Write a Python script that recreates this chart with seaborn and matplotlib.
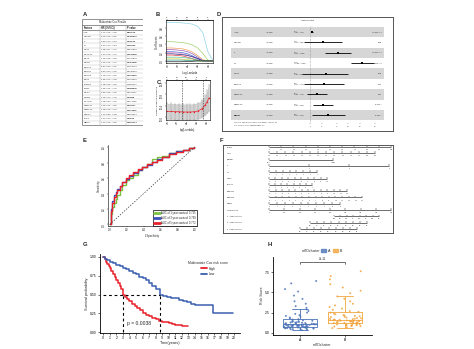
import numpy as np
import pandas as pd
import matplotlib
matplotlib.use("Agg")
import matplotlib.pyplot as plt
import seaborn as sns
from matplotlib.patches import Patch
from matplotlib.lines import Line2D

# ======================= DATA =======================
# A: multivariate Cox table
table_factors = ["Age", "Gender", "T", "N", "CDK1", "DCTPP1", "ECT2", "EIF4E", "EPHA2", "EPHX2", "ERCC2",
                 "ETV4", "LAMP3", "LSM1", "MAPT", "MGMT", "NCAPG", "NUDT11", "NUDT15", "NUP37", "PLK1", "RBM3"]
table_hr = ["1.17 (1.05 - 1.31)", "0.52 (0.29 - 0.92)", "1.81 (1.40 - 2.34)", "2.01 (1.40 - 2.87)",
            "1.28 (0.97 - 1.70)", "1.37 (1.06 - 1.78)", "1.22 (0.96 - 1.55)", "1.32 (1.01 - 1.73)",
            "0.87 (0.62 - 1.22)", "0.81 (0.64 - 1.02)", "1.25 (1.04 - 1.51)", "0.95 (0.72 - 1.25)",
            "1.18 (0.92 - 1.51)", "1.33 (1.01 - 1.76)", "0.85 (0.66 - 1.09)", "1.42 (1.15 - 1.75)",
            "1.09 (0.84 - 1.42)", "1.52 (1.21 - 1.91)", "1.38 (1.08 - 1.77)", "1.11 (0.89 - 1.38)",
            "1.37 (1.10 - 1.71)", "1.27 (1.02 - 1.58)"]
table_p = ["6.83E-05", "0.0425676", "1.04E-05", "0.000122", "0.0837654", "0.0162538", "0.1012873",
           "0.0421065", "0.4128733", "0.0745219", "0.0183522", "0.7123649", "0.1884207", "0.0398642",
           "0.2031147", "0.00098", "0.5171192", "0.000347", "0.0113845", "0.3568214", "0.00512", "0.0327754"]
table_bold = [True, True, True, True, False, True, False, True, False, False, True,
              False, False, True, False, True, False, True, True, False, True, True]

# B: LASSO coefficient paths
lasso_loglam = [-6.1, -5.5, -5.0, -4.5, -4.0, -3.5, -3.0, -2.5, -2.0, -1.5]
lasso_genes = ["CDK1", "ECT2", "EPHA2", "NUDT11", "MGMT", "PLK1", "RBM3", "LSM1", "NUDT15", "LAMP3", "ERCC2", "ETV4"]
lasso_coefs = [
    [0.92, 0.92, 0.92, 0.91, 0.90, 0.88, 0.83, 0.68, 0.22, 0.0],
    [0.46, 0.46, 0.45, 0.44, 0.42, 0.38, 0.31, 0.18, 0.02, 0.0],
    [0.31, 0.31, 0.30, 0.29, 0.26, 0.21, 0.13, 0.03, 0.0, 0.0],
    [0.27, 0.27, 0.26, 0.25, 0.22, 0.17, 0.09, 0.01, 0.0, 0.0],
    [0.22, 0.22, 0.21, 0.20, 0.17, 0.12, 0.05, 0.0, 0.0, 0.0],
    [0.20, 0.20, 0.19, 0.17, 0.14, 0.09, 0.03, 0.0, 0.0, 0.0],
    [0.17, 0.17, 0.16, 0.15, 0.13, 0.10, 0.06, 0.0, 0.0, 0.0],
    [0.14, 0.14, 0.13, 0.12, 0.09, 0.05, 0.01, 0.0, 0.0, 0.0],
    [0.09, 0.09, 0.09, 0.08, 0.07, 0.05, 0.02, 0.0, 0.0, 0.0],
    [0.05, 0.05, 0.05, 0.04, 0.03, 0.02, 0.0, 0.0, 0.0, 0.0],
    [0.02, 0.02, 0.02, 0.02, 0.01, 0.01, 0.0, 0.0, 0.0, 0.0],
    [-0.02, -0.02, -0.02, -0.02, -0.01, -0.01, 0.0, 0.0, 0.0, 0.0],
]
lasso_colors = ["#8fd3e8", "#9fd36a", "#f0a35e", "#9b59b6", "#3b6fd6", "#f08fc0",
                "#1f2d8a", "#e8404a", "#55c08a", "#e8d44d", "#33a0a0", "#222222"]
lasso_top = ["21", "19", "14", "8", "3"]

# C: cross-validation curve
cv_loglam = [-6.0, -5.6, -5.2, -4.8, -4.4, -4.0, -3.6, -3.2, -2.8, -2.4, -2.1, -1.9, -1.7]
cv_mean = [12.20, 12.20, 12.19, 12.19, 12.18, 12.18, 12.18, 12.19, 12.22, 12.30, 12.42, 12.54, 12.68]
cv_sd = [0.28, 0.28, 0.28, 0.28, 0.28, 0.28, 0.28, 0.28, 0.29, 0.31, 0.35, 0.40, 0.46]
cv_lambda_min = -4.46
cv_lambda_1se = -2.32
cv_top = ["21", "18", "14", "9", "4"]

# D: forest plot
forest_vars = ["Age", "Gender", "T", "N", "CDK1", "EPHA2", "NUDT11", "NUDT15", "RBM3"]
forest_n = ["(N=393)", "(N=393)", "(N=393)", "(N=393)", "(N=393)", "(N=393)", "(N=393)", "(N=393)", "(N=393)"]
forest_hr = [1.12, 2.18, 5.4, 22.8, 2.62, 2.32, 1.52, 2.18, 2.95]
forest_lo = [1.05, 0.70, 2.46, 11.8, 0.62, 0.70, 0.83, 1.20, 1.13]
forest_hi = [1.20, 6.84, 11.8, 46.8, 9.84, 7.70, 2.78, 3.98, 8.20]
forest_p = ["<0.001 ***", "0.18", "<0.001 ***", "<0.001 ***", "0.19", "0.17", "0.17", "0.011 *", "0.027 *"]
forest_ticks = [1, 2, 5, 10, 20, 50]

# E: ROC curves
roc_fpr = [0, 0.01, 0.02, 0.03, 0.05, 0.07, 0.09, 0.12, 0.15, 0.19, 0.23, 0.28, 0.33, 0.38,
           0.44, 0.50, 0.56, 0.62, 0.70, 0.78, 0.86, 0.93, 1.0]
roc_tpr_1y = [0, 0.07, 0.14, 0.22, 0.28, 0.33, 0.38, 0.45, 0.51, 0.57, 0.60, 0.64, 0.70, 0.75,
              0.79, 0.85, 0.88, 0.89, 0.92, 0.95, 0.97, 0.99, 1.0]
roc_tpr_3y = [0, 0.10, 0.20, 0.30, 0.38, 0.42, 0.46, 0.50, 0.55, 0.59, 0.63, 0.67, 0.71, 0.74,
              0.77, 0.81, 0.85, 0.88, 0.92, 0.95, 0.97, 0.99, 1.0]
roc_tpr_5y = [0, 0.09, 0.18, 0.28, 0.36, 0.41, 0.45, 0.50, 0.55, 0.60, 0.64, 0.68, 0.72, 0.75,
              0.78, 0.81, 0.84, 0.87, 0.91, 0.94, 0.97, 0.99, 1.0]
roc_labels = ["AUC of 1 year survival: 0.735", "AUC of 3 year survival: 0.738", "AUC of 5 year survival: 0.772"]
roc_colors = ["#7cc242", "#3a4fb8", "#e8202a"]

# F: nomogram
nomo_rows = ["Points", "Age", "Gender", "T", "N", "CDK1", "EPHA2", "NUDT11", "NUDT15", "RBM3",
             "Total Points", "1 -Year Survival", "3 -Year Survival", "5 -Year Survival"]
nomo_start = [0, 0, 0, 0, 0, 0, 0, 0, 0, 0, 0, 53.3, 33.6, 25.4]
nomo_end = [100, 86.9, 52.5, 98.4, 39.3, 47.5, 35.2, 63.9, 76.2, 58.2, 100, 90.2, 80.3, 72.1]
nomo_labels = [
    ["0", "10", "20", "30", "40", "50", "60", "70", "80", "90", "100"],
    ["20", "25", "30", "35", "40", "45", "50", "55", "60", "65", "70", "75", "80", "85"],
    ["male", "female"],
    ["1", "2", "3", "4"],
    ["0", "1", "2", "3", "4", "5", "6", "7"],
    ["1", "2", "3", "4", "5", "6", "7", "8", "9", "10"],
    ["0", "1", "2", "3", "4", "5", "6", "7"],
    ["0", "1", "2", "3", "4", "5", "6", "7", "8", "9", "10", "11", "12"],
    ["0", "1", "2", "3", "4", "5", "6", "7", "8", "9", "10", "11", "12", "13", "14"],
    ["0", "1", "2", "3", "4", "5", "6", "7", "8", "9"],
    ["0", "20", "40", "60", "80", "100", "120", "140", "160"],
    ["0.95", "0.9", "0.85", "0.8", "0.75", "0.7", "0.65", "0.6"],
    ["0.9", "0.8", "0.7", "0.6", "0.5", "0.4", "0.3", "0.2", "0.1"],
    ["0.9", "0.8", "0.7", "0.6", "0.5", "0.4", "0.3", "0.2", "0.1"],
]

# G: Kaplan-Meier
km_high_t = [0, 0.2, 0.4, 0.6, 0.8, 1.0, 1.25, 1.5, 1.75, 2.0, 2.25, 2.5, 2.75, 3.0, 3.3, 3.6, 4.0, 4.4,
             4.8, 5.2, 5.6, 6.0, 6.5, 7.0, 7.5, 8.0, 8.5, 9.0, 9.5, 10.0, 10.5, 11.0, 11.5, 12.0, 13.0]
km_high_s = [1.0, 0.97, 0.94, 0.91, 0.88, 0.85, 0.81, 0.77, 0.73, 0.69, 0.65, 0.61, 0.57, 0.50, 0.47, 0.44,
             0.41, 0.38, 0.35, 0.32, 0.29, 0.26, 0.23, 0.21, 0.19, 0.17, 0.15, 0.14, 0.13, 0.12, 0.11,
             0.10, 0.09, 0.08, 0.08]
km_low_t = [0, 0.3, 0.6, 1.0, 1.5, 2.0, 2.5, 3.0, 3.5, 4.0, 4.5, 5.0, 5.5, 6.0, 6.5, 7.0, 7.5, 8.0,
            8.6, 9.2, 9.8, 10.4, 11.0, 11.6, 12.2, 12.8, 13.4, 14.0, 16.8, 19.8]
km_low_s = [1.0, 0.98, 0.96, 0.94, 0.92, 0.90, 0.88, 0.86, 0.84, 0.82, 0.79, 0.77, 0.74, 0.72, 0.69,
            0.66, 0.62, 0.57, 0.50, 0.48, 0.47, 0.46, 0.45, 0.43, 0.41, 0.40, 0.38, 0.36, 0.26, 0.26]
km_median_high = 3.0
km_median_low = 8.6
km_pvalue = "p = 0.0038"

# H: risk score by cluster
risk_A = [0.35, 0.42, 0.48, 0.5, 0.55, 0.58, 0.6, 0.62, 0.65, 0.68, 0.7, 0.72, 0.74, 0.76, 0.78, 0.8,
          0.82, 0.84, 0.86, 0.88, 0.9, 0.92, 0.94, 0.96, 0.98, 1.0, 1.0, 1.02, 1.04, 1.06, 1.08, 1.1,
          1.12, 1.15, 1.18, 1.2, 1.22, 1.25, 1.28, 1.3, 1.32, 1.35, 1.38, 1.42, 1.46, 1.5, 1.55, 1.6,
          1.65, 1.7, 1.8, 1.9, 2.0, 2.1, 2.2, 2.35, 2.5, 2.7, 2.9, 3.1, 3.3, 3.6, 3.9, 4.2, 4.6, 5.1,
          5.4, 6.1, 6.4, 0.45, 0.52, 0.66, 0.79, 0.91, 1.03, 1.14, 0.57, 0.69, 0.83, 0.95]
risk_B = [0.6, 0.7, 0.8, 0.85, 0.9, 0.95, 1.0, 1.05, 1.1, 1.15, 1.2, 1.25, 1.3, 1.35, 1.4, 1.45, 1.5,
          1.5, 1.55, 1.6, 1.65, 1.7, 1.75, 1.8, 1.85, 1.9, 1.95, 2.0, 2.05, 2.1, 2.15, 2.2, 2.3, 2.4,
          2.5, 2.6, 2.7, 2.85, 3.0, 3.2, 3.4, 3.6, 3.9, 4.2, 4.5, 4.9, 5.2, 5.6, 6.0, 6.6, 7.0, 7.6,
          1.02, 1.12, 1.22, 1.32, 1.42, 1.52, 1.62, 1.72, 1.28, 1.38, 1.48, 1.58, 0.88, 0.98]
cluster_names = ["A", "B"]
cluster_colors = ["#4a72b8", "#f2a33a"]
cluster_pvalue = "3e-11"

# ======================= STYLE =======================
sns.set_theme(style="ticks")
plt.rcParams['font.family'] = ['Liberation Sans', 'DejaVu Sans']
plt.rcParams.update({
    'axes.linewidth': 0.4, 'axes.edgecolor': 'black',
    'xtick.major.width': 0.3, 'ytick.major.width': 0.3,
    'xtick.major.size': 1.0, 'ytick.major.size': 1.0,
    'xtick.major.pad': 0.6, 'ytick.major.pad': 0.6,
    'xtick.labelsize': 1.8, 'ytick.labelsize': 1.8,
    'axes.labelsize': 2.0, 'axes.labelpad': 1.0,
    'xtick.color': 'black', 'ytick.color': 'black',
})

W, H = 474, 349
fig = plt.figure(figsize=(W / 100, H / 100), dpi=100)


def px_axes(x0, y0, x1, y1):
    return fig.add_axes([x0 / W, 1 - y1 / H, (x1 - x0) / W, (y1 - y0) / H])


def ftext(x, y, s, **kw):
    fig.text(x / W, 1 - y / H, s, **kw)


for lab, (x, y) in zip("ABCDEFGH", [(83, 15), (156, 15), (157, 82), (217, 14),
                                    (83, 140), (220, 140), (83, 244), (268, 244)]):
    ftext(x, y, lab, fontsize=4.2, fontweight='bold', ha='left', va='center')

# ---------------- A: table ----------------
axA = px_axes(82, 18, 143, 126)
axA.set_xlim(82, 143)
axA.set_ylim(126, 18)
axA.axis('off')
row_h = 4.3
row_y = [32.6 + row_h * i for i in range(len(table_factors))]
top_rows = row_y[0] - row_h / 2
bot_rows = row_y[-1] + row_h / 2
axA.text(112.5, 21.8, "Multivariate Cox Results", fontsize=1.8, ha='center', va='center')
axA.text(83.5, 27.9, "Factors", fontsize=1.8, ha='left', va='center', fontweight='bold')
axA.text(101.5, 27.9, "HR (95%CI)", fontsize=1.8, ha='left', va='center', fontweight='bold')
axA.text(127.5, 27.9, "P value", fontsize=1.8, ha='left', va='center', fontweight='bold')
for yv, f, hr, p, b in zip(row_y, table_factors, table_hr, table_p, table_bold):
    axA.text(83.5, yv, f, fontsize=1.7, ha='left', va='center')
    axA.text(101.0, yv, hr, fontsize=1.55, ha='left', va='center')
    axA.text(127.0, yv, p, fontsize=1.6, ha='left', va='center', fontweight='bold' if b else 'normal')
axA.hlines([yv + row_h / 2 for yv in row_y[:-1]], 82.3, 142.7, color='#bbbbbb', lw=0.3)
axA.hlines([18.6, 25.2, top_rows, bot_rows], 82.3, 142.7, color='#555555', lw=0.45)
axA.vlines([82.3, 142.7], 18.6, bot_rows, color='#555555', lw=0.45)
axA.vlines([100.3, 126.4], 25.2, bot_rows, color='#999999', lw=0.3)

# ---------------- B: lasso paths ----------------
axB = px_axes(166, 20, 213, 63)
dfB = pd.DataFrame([(x, c, g) for g, coefs in zip(lasso_genes, lasso_coefs)
                    for x, c in zip(lasso_loglam, coefs)], columns=['loglam', 'coef', 'gene'])
sns.lineplot(data=dfB, x='loglam', y='coef', hue='gene', hue_order=lasso_genes,
             palette=lasso_colors, legend=False, lw=0.5, ax=axB)
axB.set_xlim(-6.1, -1.5)
axB.set_ylim(-0.05, 0.98)
axB.set_xticks([-6, -5, -4, -3, -2])
axB.set_yticks([0, 0.2, 0.4, 0.6, 0.8])
axB.tick_params(axis='y', labelrotation=90)
axB.set_xlabel("Log Lambda")
axB.set_ylabel("Coefficients")
secB = axB.secondary_xaxis('top')
secB.set_xticks([-6, -5, -4, -3, -2])
secB.set_xticklabels(lasso_top)
secB.tick_params(labelsize=1.6, length=1.0, width=0.3, pad=0.5)

# ---------------- C: CV deviance ----------------
axC = px_axes(166, 80, 210, 120)
cv_lo = [m - s for m, s in zip(cv_mean, cv_sd)]
cv_hi = [m + s for m, s in zip(cv_mean, cv_sd)]
axC.fill_between(cv_loglam, cv_lo, cv_hi, color='#d3d3d3', lw=0)
axC.errorbar(cv_loglam, cv_mean, yerr=cv_sd, fmt='none', ecolor='#9a9a9a',
             elinewidth=0.3, capsize=0.6, capthick=0.3)
sns.lineplot(x=cv_loglam, y=cv_mean, color='#e8202a', marker='o', markersize=1.0,
             markeredgewidth=0, lw=0.5, ax=axC)
axC.axvline(cv_lambda_min, ls=(0, (1.5, 1.5)), color='black', lw=0.4)
axC.axvline(cv_lambda_1se, ls=(0, (1.5, 1.5)), color='black', lw=0.4)
axC.set_xlim(-6.1, -1.6)
axC.set_ylim(11.9, 13.3)
axC.set_xticks([-6, -5, -4, -3, -2])
axC.set_yticks([12.0, 12.4, 12.8, 13.2])
axC.tick_params(axis='y', labelrotation=90)
axC.set_xlabel("log(Lambda)")
axC.set_ylabel("Partial Likelihood Deviance", fontsize=1.7)
secC = axC.secondary_xaxis('top')
secC.set_xticks([-6, -5, -4, -3, -2])
secC.set_xticklabels(cv_top)
secC.tick_params(labelsize=1.6, length=1.0, width=0.3, pad=0.5)

# ---------------- D: forest plot ----------------
axDbox = px_axes(222, 17, 393, 131)
axDbox.set_xticks([])
axDbox.set_yticks([])
for s in axDbox.spines.values():
    s.set_color('#555555')
    s.set_linewidth(0.7)
axD = px_axes(231, 26, 384, 123)
axD.set_xscale('log')
axD.set_xlim(0.0087, 85.0)
rows_D = list(range(len(forest_vars)))
axD.set_ylim(8.75, -0.58)
for i in rows_D[::2]:
    axD.axhspan(i - 0.5, i + 0.5, color='#d6d6d6', lw=0, zorder=0)
axD.axvline(1, ls=(0, (1, 1.2)), color='#888888', lw=0.45, zorder=1)
axD.hlines(rows_D, forest_lo, forest_hi, color='black', lw=0.6, zorder=2)
sns.scatterplot(x=forest_hr, y=rows_D, marker='s', s=2.5, color='black', linewidth=0, ax=axD, zorder=3)
for sp in axD.spines.values():
    sp.set_visible(False)
axD.set_yticks([])
axD.set_xticks(forest_ticks)
axD.set_xticklabels([str(t) for t in forest_ticks])
axD.xaxis.set_minor_locator(matplotlib.ticker.NullLocator())
axD.tick_params(axis='x', labelsize=1.6, length=0.8, width=0.3, pad=1.2, colors='#555555')
axD.set_xlabel("")
axD.set_ylabel("")
tD = axD.get_yaxis_transform()
for i, (v, n, hr, lo, hi, p) in enumerate(zip(forest_vars, forest_n, forest_hr, forest_lo, forest_hi, forest_p)):
    axD.text(0.02, i, v, transform=tD, fontsize=1.7, ha='left', va='center',
             fontweight='bold' if i == len(forest_vars) - 1 else 'normal')
    axD.text(0.23, i, n, transform=tD, fontsize=1.5, ha='left', va='center')
    axD.text(0.41, i, f"{hr:.2f}\n({lo:.2f} - {hi:.2f})", transform=tD, fontsize=1.3,
             ha='left', va='center', linespacing=0.9)
    axD.text(0.985, i, p, transform=tD, fontsize=1.5, ha='right', va='center')
ftext(308, 20.5, "Hazard ratio", fontsize=1.7, ha='center', va='center')
ftext(234, 122.2, "# Events: 186; Global p-value (Log-Rank): 1.2477e-10", fontsize=1.3, ha='left', va='center')
ftext(234, 125.4, "AIC: 1774.32; Concordance Index: 0.7", fontsize=1.3, ha='left', va='center')

# ---------------- E: ROC ----------------
axE = px_axes(108, 145, 197, 226)
for tpr, lab, col in zip([roc_tpr_1y, roc_tpr_3y, roc_tpr_5y], roc_labels, roc_colors):
    sns.lineplot(x=roc_fpr, y=tpr, color=col, lw=1.0, drawstyle='steps-post', label=lab, ax=axE)
axE.plot([0, 1], [0, 1], ls=(0, (2, 2)), color='#333333', lw=0.5)
axE.set_xlim(-0.02, 1.03)
axE.set_ylim(-0.02, 1.03)
axE.set_xticks([0, 0.2, 0.4, 0.6, 0.8, 1.0])
axE.set_yticks([0, 0.2, 0.4, 0.6, 0.8, 1.0])
axE.set_xticklabels(["0.0", "0.2", "0.4", "0.6", "0.8", "1.0"])
axE.set_yticklabels(["0.0", "0.2", "0.4", "0.6", "0.8", "1.0"])
axE.tick_params(axis='y', labelrotation=90)
axE.spines[['top', 'right']].set_visible(False)
axE.set_xlabel("1-Specificity")
axE.set_ylabel("Sensitivity")
legE = axE.legend(loc='lower right', fontsize=1.9, frameon=True, fancybox=False, edgecolor='black',
                  framealpha=1, handlelength=2.0, borderpad=0.45, labelspacing=0.3, handletextpad=0.5,
                  borderaxespad=0.05)
legE.get_frame().set_linewidth(0.5)
for ln in legE.get_lines():
    ln.set_linewidth(2.0)

# ---------------- F: nomogram ----------------
axF = px_axes(223, 145, 393, 233)
axF.set_xlim(-37.7, 101.6)
axF.set_ylim(13.63, -0.32)
axF.set_xticks([])
axF.set_yticks([])
for s in axF.spines.values():
    s.set_color('#555555')
    s.set_linewidth(0.7)
tF = axF.get_yaxis_transform()
for i, (name, s0, s1, labs) in enumerate(zip(nomo_rows, nomo_start, nomo_end, nomo_labels)):
    axF.text(0.022, i, name, transform=tF, fontsize=1.5, ha='left', va='center')
    axF.hlines(i, s0, s1, color='black', lw=0.4)
    pos = np.linspace(s0, s1, len(labs))
    axF.vlines(pos, i - 0.3, i, color='black', lw=0.3)
    for p_, l_ in zip(pos, labs):
        axF.text(p_, i + 0.4, l_, fontsize=1.2, ha='center', va='center')

# ---------------- G: Kaplan-Meier ----------------
axG = px_axes(100, 254, 240, 332.75)
sns.lineplot(x=km_high_t, y=km_high_s, color='#e8202a', lw=1.1, drawstyle='steps-post', ax=axG)
sns.lineplot(x=km_low_t, y=km_low_s, color='#3a5fb0', lw=1.1, drawstyle='steps-post', ax=axG)
dash = (0, (2.5, 2.5))
axG.hlines(0.5, 0, km_median_low, color='black', ls=dash, lw=0.8)
axG.vlines([km_median_high, km_median_low], 0, 0.5, color='black', ls=dash, lw=0.8)
axG.set_xlim(-0.5, 20.9)
axG.set_ylim(-0.01, 1.04)
axG.set_xticks(list(range(0, 21)))
axG.set_yticks([0, 0.25, 0.5, 0.75, 1.0])
axG.set_yticklabels(["0.00", "0.25", "0.50", "0.75", "1.00"])
axG.tick_params(labelsize=2.4, length=1.3, width=0.4, pad=1.0)
axG.spines[['top', 'right']].set_visible(False)
axG.spines[['left', 'bottom']].set_linewidth(0.6)
axG.set_xlabel("Time(years)", fontsize=2.8, labelpad=1.0)
axG.set_ylabel("Survival probability", fontsize=2.8, labelpad=1.0)
axG.text(3.7, 0.12, km_pvalue, fontsize=3.6, ha='left', va='center')
legG = axG.legend(handles=[Line2D([], [], color='#e8202a', lw=1.3), Line2D([], [], color='#3a5fb0', lw=1.3)],
                  labels=["High", "Low"], title="Multivariate Cox risk score", loc='upper left',
                  bbox_to_anchor=(186 / W, 1 - 259 / H), bbox_transform=fig.transFigure,
                  frameon=False, fontsize=2.4, title_fontsize=2.4, handlelength=1.6,
                  labelspacing=0.4, borderpad=0.2, handletextpad=0.6)

# ---------------- H: box + strip ----------------
axH = px_axes(273, 256.6, 372, 334.6)
dfH = pd.DataFrame({'cluster': ["A"] * len(risk_A) + ["B"] * len(risk_B),
                    'risk': risk_A + risk_B})
np.random.seed(3)
sns.stripplot(data=dfH, x='cluster', y='risk', hue='cluster', order=cluster_names, hue_order=cluster_names,
              palette=cluster_colors, jitter=0.38, size=1.4, alpha=0.85, linewidth=0, legend=False, ax=axH)
sns.boxplot(data=dfH, x='cluster', y='risk', hue='cluster', order=cluster_names, hue_order=cluster_names,
            palette=cluster_colors, fill=False, width=0.75, showfliers=False, linewidth=0.6,
            legend=False, ax=axH)
axH.set_xlim(-0.6, 1.6)
axH.set_ylim(-0.2, 9.4)
axH.set_yticks([0, 2.5, 5.0, 7.5])
axH.set_yticklabels(["0.0", "2.5", "5.0", "7.5"])
axH.tick_params(labelsize=2.4, length=1.3, width=0.4, pad=1.0)
axH.spines[['top', 'right']].set_visible(False)
axH.spines[['left', 'bottom']].set_linewidth(0.6)
axH.set_xlabel("mTOcluster", fontsize=2.6, labelpad=1.0)
axH.set_ylabel("Risk Score", fontsize=2.6, labelpad=1.0)
axH.plot([0, 0, 1, 1], [8.5, 8.7, 8.7, 8.5], color='black', lw=0.4)
axH.text(0.5, 8.8, cluster_pvalue, fontsize=2.2, ha='center', va='bottom')
ftext(302, 251, "mTOcluster", fontsize=2.6, ha='left', va='center')
axH.legend(handles=[Patch(facecolor=c, edgecolor=c, alpha=0.75) for c in cluster_colors],
           labels=cluster_names, ncol=2, loc='center left',
           bbox_to_anchor=(319 / W, 1 - 251 / H), bbox_transform=fig.transFigure,
           frameon=False, fontsize=2.6, handlelength=1.4, handleheight=1.0,
           columnspacing=0.8, handletextpad=0.4, borderpad=0.1)

fig.savefig("out.png", dpi=100)
